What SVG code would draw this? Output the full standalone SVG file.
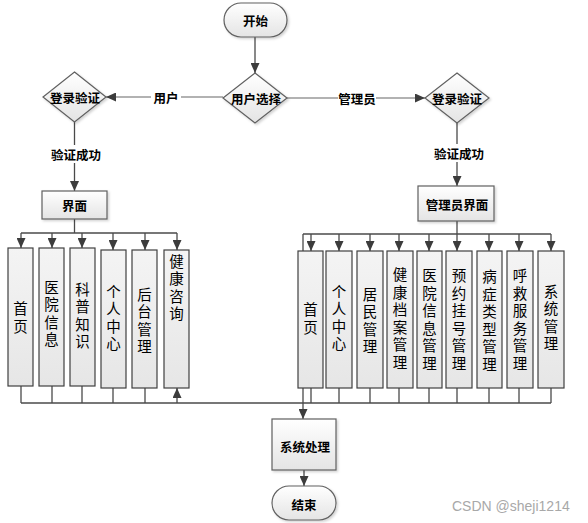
<svg xmlns="http://www.w3.org/2000/svg" width="588" height="523" viewBox="0 0 588 523">
<defs>
<linearGradient id="gBox" x1="0" y1="0" x2="0" y2="1"><stop offset="0" stop-color="#ffffff"/><stop offset="1" stop-color="#e4e4e4"/></linearGradient>
<linearGradient id="gCol" x1="0" y1="0" x2="0" y2="1"><stop offset="0" stop-color="#f4f4f4"/><stop offset="1" stop-color="#e6e6e6"/></linearGradient>
<filter id="sh" x="-20%" y="-20%" width="140%" height="140%"><feDropShadow dx="1.5" dy="1.5" stdDeviation="1" flood-color="#000" flood-opacity="0.18"/></filter>
<marker id="ah" markerUnits="userSpaceOnUse" markerWidth="10" markerHeight="9" refX="10" refY="4.5" orient="auto"><path d="M0,0 L10,4.5 L0,9 z" fill="#3c3c3c"/></marker>
<style>
.n{fill:url(#gBox);stroke:#606060;stroke-width:1.2;filter:url(#sh)}
.c{fill:url(#gCol);stroke:#404040;stroke-width:1.2}
.l{fill:none;stroke:#4a4a4a;stroke-width:1.3}
.lg{fill:none;stroke:#999;stroke-width:1.6}
.a{marker-end:url(#ah)}
.t{font-family:"Noto Sans CJK SC",sans-serif;font-weight:bold;font-size:12.5px;fill:#000;text-anchor:middle;dominant-baseline:central}
.v{font-family:"Noto Sans CJK SC",sans-serif;font-size:14.5px;fill:#000;text-anchor:middle;writing-mode:vertical-rl;letter-spacing:3px}
.lb{fill:#fff}
</style>
</defs>
<g id="connectors">
<line class="l a" x1="255" y1="37" x2="255" y2="73"/>
<line class="lg a" x1="223" y1="97" x2="106" y2="97"/>
<rect class="lb" x="151" y="88" width="30" height="18"/>
<text class="t" x="166" y="97">用户</text>
<line class="lg a" x1="287" y1="98" x2="425" y2="98"/>
<rect class="lb" x="338" y="89" width="38" height="18"/>
<text class="t" x="357" y="98">管理员</text>
<line class="l a" x1="74.5" y1="122" x2="74.5" y2="191"/>
<rect class="lb" x="51" y="145" width="50" height="18"/>
<text class="t" x="76" y="154">验证成功</text>
<line class="l a" x1="457" y1="123" x2="457" y2="186"/>
<rect class="lb" x="434" y="144" width="50" height="18"/>
<text class="t" x="459" y="153">验证成功</text>
<line class="l" x1="74.5" y1="219" x2="74.5" y2="233"/>
<line class="l" x1="21" y1="233" x2="177" y2="233"/>
<line class="l a" x1="21" y1="233" x2="21" y2="248"/>
<line class="l a" x1="52" y1="233" x2="52" y2="248"/>
<line class="l a" x1="82" y1="233" x2="82" y2="248"/>
<line class="l a" x1="113" y1="233" x2="113" y2="250"/>
<line class="l a" x1="145" y1="233" x2="145" y2="250"/>
<line class="l a" x1="177" y1="233" x2="177" y2="250"/>
<line class="l" x1="457" y1="221" x2="457" y2="234"/>
<line class="l" x1="303" y1="234" x2="551" y2="234"/>
<line class="l a" x1="311" y1="234" x2="311" y2="251"/>
<line class="l a" x1="339" y1="234" x2="339" y2="251"/>
<line class="l a" x1="370" y1="234" x2="370" y2="251"/>
<line class="l a" x1="399" y1="234" x2="399" y2="251"/>
<line class="l a" x1="429" y1="234" x2="429" y2="251"/>
<line class="l a" x1="457" y1="234" x2="457" y2="251"/>
<line class="l a" x1="489" y1="234" x2="489" y2="251"/>
<line class="l a" x1="519" y1="234" x2="519" y2="251"/>
<line class="l a" x1="551" y1="234" x2="551" y2="251"/>
<line class="l a" x1="303" y1="234" x2="303" y2="419"/>
<line class="l" x1="21" y1="403" x2="551" y2="403"/>
<line class="l" x1="21" y1="386" x2="21" y2="403"/>
<line class="l" x1="52" y1="386" x2="52" y2="403"/>
<line class="l" x1="82" y1="386" x2="82" y2="403"/>
<line class="l" x1="113" y1="388" x2="113" y2="403"/>
<line class="l" x1="145" y1="388" x2="145" y2="403"/>
<line class="l a" x1="177" y1="403" x2="177" y2="388"/>
<line class="l" x1="311" y1="388" x2="311" y2="403"/>
<line class="l" x1="339" y1="388" x2="339" y2="403"/>
<line class="l" x1="370" y1="388" x2="370" y2="403"/>
<line class="l" x1="399" y1="388" x2="399" y2="403"/>
<line class="l" x1="429" y1="388" x2="429" y2="403"/>
<line class="l" x1="457" y1="388" x2="457" y2="403"/>
<line class="l" x1="489" y1="388" x2="489" y2="403"/>
<line class="l" x1="519" y1="388" x2="519" y2="403"/>
<line class="l" x1="551" y1="388" x2="551" y2="403"/>
<line class="l a" x1="304" y1="470" x2="304" y2="486"/>
</g>
<g id="start"><rect class="n" x="224" y="3" width="63" height="34" rx="17"/><text class="t" x="255.5" y="20">开始</text></g>
<g id="choice"><polygon class="n" points="255,73 287,98 255,123 223,98"/><text class="t" x="256" y="98">用户选择</text></g>
<g id="loginUser"><polygon class="n" points="74.5,72 106,97 74.5,122 43,97"/><text class="t" x="75" y="97">登录验证</text></g>
<g id="loginAdmin"><polygon class="n" points="457,73 489,98 457,123 425,98"/><text class="t" x="457" y="98">登录验证</text></g>
<g id="userUI"><rect class="n" x="42" y="191" width="65" height="28"/><text class="t" x="74.5" y="205">界面</text></g>
<g id="adminUI"><rect class="n" x="418" y="186" width="76" height="35"/><text class="t" x="457" y="204">管理员界面</text></g>
<g id="u1"><rect class="c" x="8" y="248" width="25" height="138"/><text class="v" x="20.5" y="319">首页</text></g>
<g id="u2"><rect class="c" x="39" y="248" width="25" height="138"/><text class="v" x="51.5" y="315">医院信息</text></g>
<g id="u3"><rect class="c" x="70" y="248" width="25" height="138"/><text class="v" x="82.5" y="317">科普知识</text></g>
<g id="u4"><rect class="c" x="101" y="250" width="25" height="138"/><text class="v" x="113.5" y="319">个人中心</text></g>
<g id="u5"><rect class="c" x="132" y="250" width="25" height="138"/><text class="v" x="144.5" y="322">后台管理</text></g>
<g id="u6"><rect class="c" x="164" y="250" width="25" height="138"/><text class="v" x="176.5" y="289">健康咨询</text></g>
<g id="a1"><rect class="c" x="298" y="251" width="25" height="137"/><text class="v" x="310.5" y="320">首页</text></g>
<g id="a2"><rect class="c" x="326" y="251" width="26" height="137"/><text class="v" x="339" y="319">个人中心</text></g>
<g id="a3"><rect class="c" x="357" y="251" width="26" height="137"/><text class="v" x="370" y="322">居民管理</text></g>
<g id="a4"><rect class="c" x="387" y="251" width="26" height="137"/><text class="v" x="400" y="320">健康档案管理</text></g>
<g id="a5"><rect class="c" x="417" y="251" width="25" height="137"/><text class="v" x="429.5" y="321">医院信息管理</text></g>
<g id="a6"><rect class="c" x="446" y="251" width="26" height="137"/><text class="v" x="459" y="321">预约挂号管理</text></g>
<g id="a7"><rect class="c" x="477" y="251" width="25" height="137"/><text class="v" x="489.5" y="322">病症类型管理</text></g>
<g id="a8"><rect class="c" x="507" y="251" width="26" height="137"/><text class="v" x="520" y="321">呼救服务管理</text></g>
<g id="a9"><rect class="c" x="538" y="251" width="26" height="137"/><text class="v" x="551" y="319">系统管理</text></g>
<g id="process"><rect class="n" x="272" y="419" width="64" height="51"/><text class="t" x="305" y="446">系统处理</text></g>
<g id="end"><rect class="n" x="272" y="486" width="64" height="34" rx="17"/><text class="t" x="304" y="504">结束</text></g>
<text x="452" y="511" font-family="Liberation Sans, Arial, sans-serif" font-size="14" fill="#a8a8a8">CSDN @sheji1214</text>
</svg>
